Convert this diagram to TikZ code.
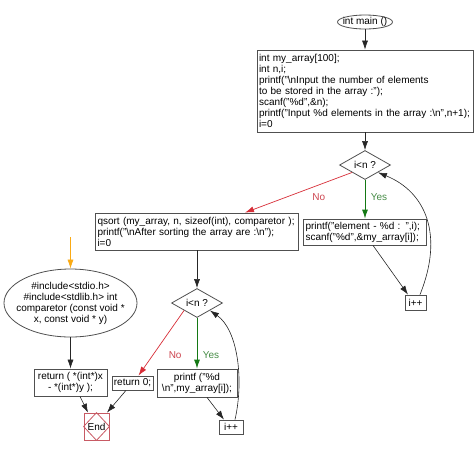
\documentclass[tikz,border=0pt]{standalone}
\usepackage{fontspec}
\setmainfont{Liberation Sans}
\usetikzlibrary{arrows.meta,shapes.geometric}

\definecolor{boxgray}{RGB}{80,80,80}
\definecolor{nored}{RGB}{215,45,55}
\definecolor{notext}{RGB}{205,70,80}
\definecolor{yesgreen}{RGB}{20,120,20}
\definecolor{yestext}{RGB}{70,140,70}
\definecolor{startorange}{RGB}{250,170,20}
\definecolor{endred}{RGB}{200,90,100}

\begin{document}
\begin{tikzpicture}[x=1pt, y=-1pt,
		every node/.style={font=\fontsize{10}{11}\selectfont},
		box/.style={draw=boxgray, line width=0.8pt, inner xsep=2pt, inner ysep=1.5pt},
		leftbox/.style={box, align=left},
		midbox/.style={box, align=center},
		cond/.style={draw=boxgray, line width=0.8pt, diamond, shape aspect=1.76, inner sep=0pt, minimum width=51pt, minimum height=29pt},
		oval/.style={draw=boxgray, line width=0.8pt, ellipse, inner sep=0pt},
		arr/.style={-{Latex[length=9pt,width=6pt]}, black!85, line width=0.6pt},
		noarr/.style={arr, nored, line width=0.7pt},
		yesarr/.style={arr, yesgreen, line width=0.9pt},
		nolbl/.style={text=notext},
		yeslbl/.style={text=yestext}]
	\useasboundingbox (0, 0) rectangle (474, 451);

	% main
	\node[oval, minimum width=55pt, minimum height=14pt, label=center:{int main ()}] (main) at (365, 22) {};
	\node[leftbox, text width=212pt, minimum height=82pt] (init) at (365, 91) {int my\_array[100];\\int n,i;\\printf("\textbackslash nInput the number of elements\\to be stored in the array :");\\scanf("\%d",\&n);\\printf("Input \%d elements in the array :\textbackslash n",n+1);\\i=0};
	\node[cond] (loop1) at (365, 165) {i<n ?};
	\node[leftbox, text width=119pt, minimum height=26pt] (read) at (365, 232) {printf("element - \%d : ",i);\\scanf("\%d",\&my\_array[i]);};
	\node[box, minimum width=21pt, minimum height=15pt, inner sep=0pt] (inc1) at (415.5, 302.5) {i++};

	% stampa
	\node[leftbox, text width=199pt, minimum height=37pt] (sort) at (197, 231.5) {qsort (my\_array, n, sizeof(int), comparetor );\\printf("\textbackslash nAfter sorting the array are :\textbackslash n");\\i=0};
	\node[cond] (loop2) at (197, 303) {i<n ?};
	\node[midbox, minimum width=80pt, minimum height=28pt] (print) at (197, 383) {printf ("\%d\\\textbackslash n",my\_array[i]);};
	\node[box, minimum width=24pt, minimum height=14pt, inner sep=0pt] (inc2) at (231, 427) {i++};
	\node[box, minimum width=41pt, minimum height=14pt, inner sep=0pt] (ret0) at (132.5, 383) {return 0;};

	% comparetor
	\coordinate (cmpin) at (70.5, 237);
	\node[oval, minimum width=133pt, minimum height=68pt, label={[align=center]center:{\#include<stdio.h>\\\#include<stdlib.h> int\\comparetor (const void *\\x, const void * y)}}] (cmp) at (70.5, 303) {};
	\node[midbox, minimum width=73pt, minimum height=27pt] (ret) at (70.5, 382.5) {return ( *(int*)x\\- *(int*)y );};
	\node[draw=endred, line width=0.8pt, minimum width=25pt, minimum height=27pt, inner sep=0pt] (end) at (96.5, 426.5) {End};
	\draw[endred, line width=0.8pt] (end.north) -- (end.east) -- (end.south) -- (end.west) -- cycle;

	% collegamenti
	\draw[arr] (main) -- (init);
	\draw[arr] (init) -- (loop1);
	\draw[noarr] (loop1.south west) -- ([xshift=48pt]sort.north) node[nolbl, pos=0.31, below=5pt] (no1) {No};
	\draw[yesarr] (loop1) -- (read) node[yeslbl, pos=0.45, right=2pt] (yes1) {Yes};
	\draw[arr] ([xshift=8pt]read.south) -- ([xshift=-7.5pt]inc1.north);
	\draw[arr] ([xshift=4.5pt]inc1.north) .. controls (444, 235) and (426, 192) .. (loop1.south east);
	\draw[arr] (sort) -- (loop2);
	\draw[noarr] (loop2.south west) -- ([xshift=6pt]ret0.north) node[nolbl, pos=0.68, right=12pt] (no2) {No};
	\draw[yesarr] (loop2) -- (print) node[yeslbl, pos=0.73, right=2pt] (yes2) {Yes};
	\draw[arr] ([xshift=10pt]print.south) -- ([xshift=-7pt]inc2.north);
	\draw[arr] ([xshift=4pt]inc2.north) .. controls (244, 380) and (238, 330) .. (loop2.south east);
	\draw[arr, startorange] (cmpin) -- (cmp);
	\draw[arr] (cmp) -- (ret);
	\draw[arr] ([xshift=9.5pt]ret.south) -- ([xshift=-8.5pt]end.north);
	\draw[arr] ([xshift=-6.5pt]ret0.south) -- ([xshift=10.5pt]end.north);
\end{tikzpicture}
\end{document}
